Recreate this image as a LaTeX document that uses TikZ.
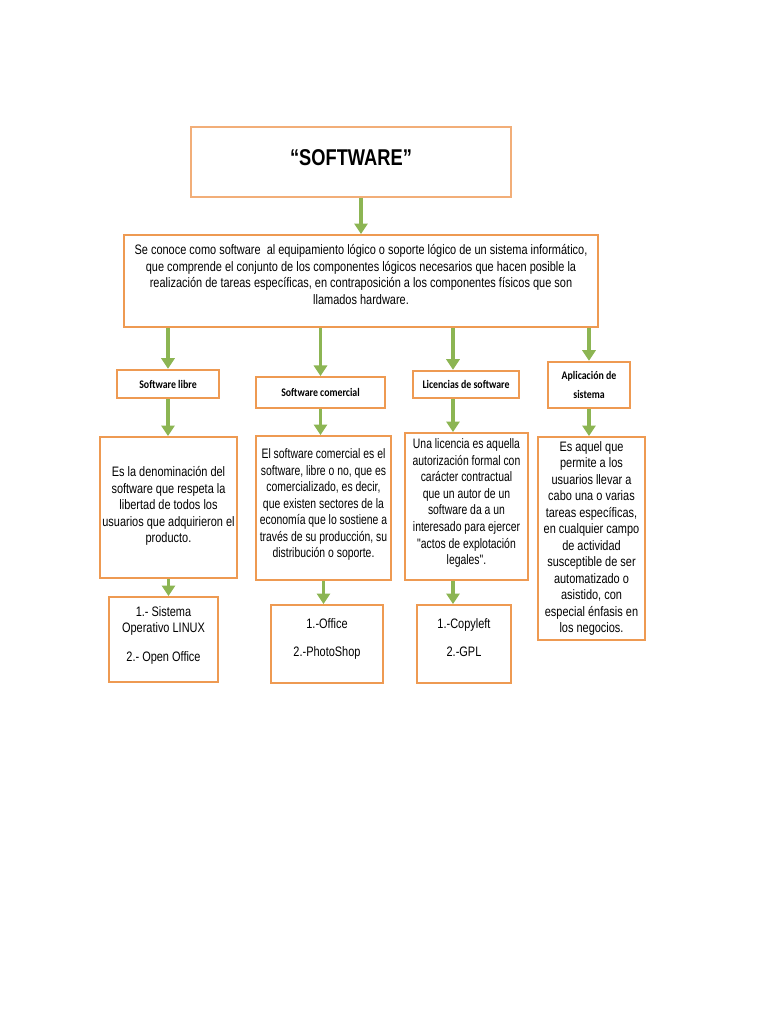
\documentclass[tikz,border=0pt]{standalone}
\usepackage{fontspec}
\setmainfont{Liberation Sans}[FakeStretch=0.8]
\newfontfamily\estreitafont{Liberation Sans}[FakeStretch=0.76]
\newfontfamily\rotulofont{Carlito}[FakeStretch=0.85]
\usetikzlibrary{arrows.meta}
\definecolor{laranja}{HTML}{EE9A52}
\definecolor{laranjaclaro}{HTML}{F2AE78}
\definecolor{verde}{HTML}{8CB553}
\tikzset{
  caixa/.style={draw=laranja,line width=1.1pt,fill=white,align=center,inner sep=0pt,
    font=\fontsize{7.8pt}{9.4pt}\selectfont},
  estreita/.style={caixa,font=\estreitafont\fontsize{7.8pt}{9.4pt}\selectfont},
  rotulo/.style={caixa,line width=1.4pt,font=\rotulofont\bfseries\fontsize{6.6pt}{9pt}\selectfont},
  seta/.style={verde,line width=1.8pt,-{Triangle[width=7.5pt,length=6pt]}}
}
\begin{document}
\begin{tikzpicture}[x=0.02cm,y=-0.02cm]
  \useasboundingbox (0,0) rectangle (768,1024);
  % titulo e definicao
  \node[caixa,draw=laranjaclaro,minimum width=6.4cm,minimum height=1.4cm,
    font=\bfseries\fontsize{13pt}{15pt}\selectfont] (titulo) at (351,162) {“SOFTWARE”\\[-10pt]};
  \node[caixa,minimum width=9.48cm,minimum height=1.84cm] (def) at (361,281)
    {Se conoce como software\ \ al equipamiento lógico o soporte lógico de un sistema informático,\\
     que comprende el conjunto de los componentes lógicos necesarios que hacen posible la\\
     realización de tareas específicas, en contraposición a los componentes físicos que son\\
     llamados hardware.\\[-2pt]};
  % tipos de software
  \node[rotulo,minimum width=2.04cm,minimum height=0.56cm] (libre) at (168,384) {Software libre};
  \node[rotulo,line width=1.1pt,minimum width=2.58cm,minimum height=0.62cm] (comercial) at (320.5,392.5) {Software comercial};
  \node[rotulo,minimum width=2.12cm,minimum height=0.54cm] (licencias) at (466,384.5) {Licencias de software};
  \node[rotulo,minimum width=1.64cm,minimum height=0.92cm,
    font=\rotulofont\bfseries\fontsize{6.6pt}{11pt}\selectfont] (aplicacion) at (589,385) {Aplicación de\\ sistema};
  % descricoes
  \node[caixa,minimum width=2.74cm,minimum height=2.82cm] (desclibre) at (168.5,507.5)
    {Es la denominación del\\ software que respeta la\\ libertad de todos los\\ usuarios que adquirieron el\\ producto.\\[-6pt]};
  \node[estreita,minimum width=2.7cm,minimum height=2.88cm] (desccomercial) at (323.5,508)
    {El software comercial es el\\ software, libre o no, que es\\ comercializado, es decir,\\ que existen sectores de la\\ economía que lo sostiene a\\ través de su producción, su\\ distribución o soporte.\\[-4pt]};
  \node[estreita,minimum width=2.46cm,minimum height=2.94cm] (desclicencias) at (466.5,506.5)
    {Una licencia es aquella\\ autorización formal con\\ carácter contractual\\ que un autor de un\\ software da a un\\ interesado para ejercer\\ "actos de explotación\\ legales".\\[-4pt]};
  \node[caixa,minimum width=2.14cm,minimum height=4.06cm] (descaplicacion) at (591.5,538.5)
    {Es aquel que\\ permite a los\\ usuarios llevar a\\ cabo una o varias\\ tareas específicas,\\ en cualquier campo\\ de actividad\\ susceptible de ser\\ automatizado o\\ asistido, con\\ especial énfasis en\\ los negocios.};
  % exemplos
  \node[caixa,minimum width=2.18cm,minimum height=1.7cm] (exlibre) at (163.5,639.5)
    {1.- Sistema\\ Operativo LINUX\\[7pt] 2.- Open Office\\[-3pt]};
  \node[caixa,minimum width=2.24cm,minimum height=1.56cm] (excomercial) at (327,644)
    {1.-Office\\[7pt] 2.-PhotoShop\\[-2pt]};
  \node[caixa,minimum width=1.88cm,minimum height=1.56cm] (exlicencias) at (464,644)
    {1.-Copyleft\\[7pt] 2.-GPL\\[-2pt]};
  \coordinate (licx) at (453,0);
  % setas
  \draw[seta] (titulo.south -| def.north) -- (def.north);
  \draw[seta] (def.south -| libre.north) -- (libre.north);
  \draw[seta] (def.south -| comercial.north) -- (comercial.north);
  \draw[seta] (def.south -| licx) -- (licencias.north -| licx);
  \draw[seta] (def.south -| aplicacion.north) -- (aplicacion.north);
  \draw[seta] (libre.south) -- (libre.south |- desclibre.north);
  \draw[seta] (comercial.south) -- (comercial.south |- desccomercial.north);
  \draw[seta] (licencias.south -| licx) -- (desclicencias.north -| licx);
  \draw[seta] (aplicacion.south) -- (aplicacion.south |- descaplicacion.north);
  \draw[seta] (desclibre.south) -- (desclibre.south |- exlibre.north);
  \draw[seta] (desccomercial.south) -- (desccomercial.south |- excomercial.north);
  \draw[seta] (desclicencias.south -| licx) -- (exlicencias.north -| licx);
\end{tikzpicture}
\end{document}
